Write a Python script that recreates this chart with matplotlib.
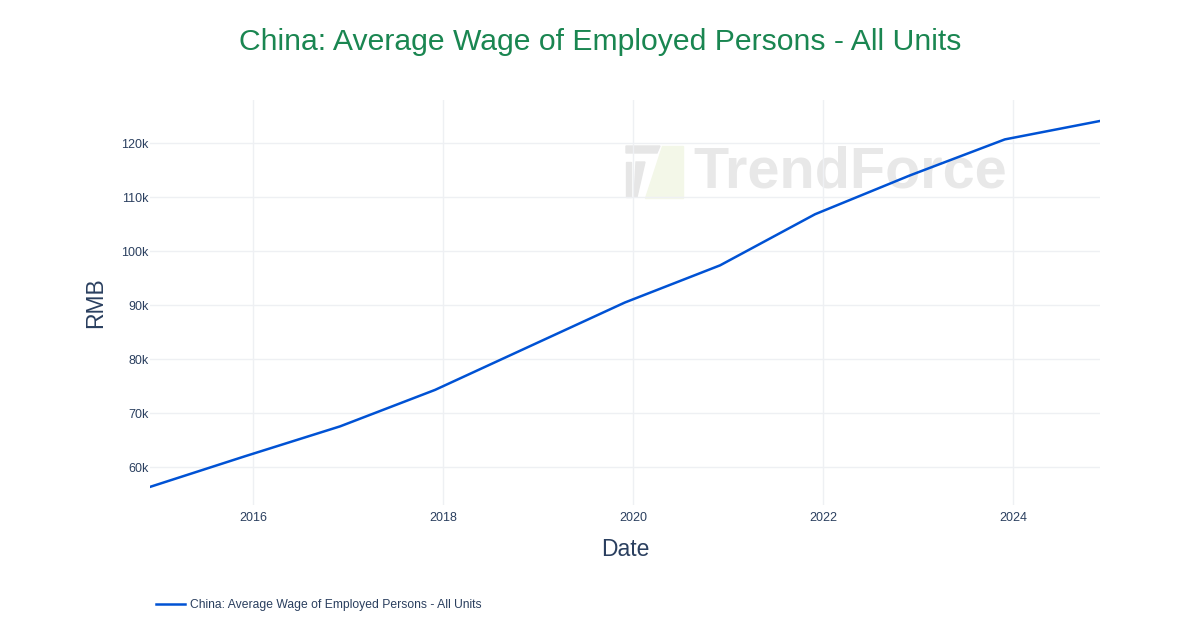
import pandas as pd
import matplotlib.pyplot as plt
import matplotlib.dates as mdates
from matplotlib.patches import Polygon
from matplotlib.ticker import FuncFormatter

plt.rcParams["font.family"] = ["Liberation Sans", "DejaVu Sans"]

# data: yearly average wage (RMB)
years = [2014, 2015, 2016, 2017, 2018, 2019, 2020, 2021, 2022, 2023, 2024]
wages = [56360, 62029, 67569, 74318, 82413, 90501, 97379, 106837, 114029, 120698, 124110]
series_name = "China: Average Wage of Employed Persons - All Units"

dates = pd.to_datetime([f"{y}-12-01" for y in years])

text_col = "#2a3f5f"
grid_col = "#eef0f3"

W, H = 1200, 630
fig = plt.figure(figsize=(12, 6.3), dpi=100)
ax = fig.add_axes([0.125, 0.198, 0.7917, 0.643])
ax.set_zorder(2)
ax.patch.set_alpha(0)

ax.plot(dates, wages, color="#0052d4", linewidth=1.8, label=series_name, zorder=3)

ax.set_xlim(dates[0], dates[-1])
ax.set_ylim(52960, 127960)

ax.xaxis.set_major_locator(mdates.YearLocator(2))
ax.xaxis.set_major_formatter(mdates.DateFormatter("%Y"))
ax.set_yticks([60000, 70000, 80000, 90000, 100000, 110000, 120000])
ax.yaxis.set_major_formatter(FuncFormatter(lambda v, p: f"{int(v/1000)}k"))

ax.grid(True, color=grid_col, linewidth=1)
for s in ax.spines.values():
    s.set_visible(False)
ax.tick_params(axis="y", length=0, labelsize=9, colors=text_col, pad=1)
ax.tick_params(axis="x", length=0, labelsize=9, colors=text_col, pad=5)

ax.set_xlabel("Date", fontsize=16.5, color=text_col, labelpad=10)
ax.set_ylabel("RMB", fontsize=16.5, color=text_col, labelpad=10)

fig.suptitle("China: Average Wage of Employed Persons - All Units",
             fontsize=21.7, color="#1a8651", y=0.955)

# watermark (text + rough logo), behind the plot
def px(pts):
    return [(x / W, 1 - y / H) for x, y in pts]

fig.text(693 / W, 1 - 173 / H, "TrendForce", fontsize=41.5, fontweight="bold",
         color="#e8e8e8", va="center", ha="left", zorder=0)
logo_gray = "#e6e6e6"
logo_green = "#f3f7e8"
fig.patches.append(Polygon(px([(626, 146), (660, 146), (657, 153), (626, 153)]),
                           closed=True, transform=fig.transFigure, color=logo_gray, zorder=0))
fig.patches.append(Polygon(px([(626, 162), (631, 162), (631, 197), (626, 197)]),
                           closed=True, transform=fig.transFigure, color=logo_gray, zorder=0))
fig.patches.append(Polygon(px([(636, 162), (645, 162), (637, 197), (634, 197)]),
                           closed=True, transform=fig.transFigure, color=logo_gray, zorder=0))
fig.patches.append(Polygon(px([(662, 146), (683, 146), (683, 198), (645, 198)]),
                           closed=True, transform=fig.transFigure, color=logo_green, zorder=0))

leg = fig.legend(loc="lower left", bbox_to_anchor=(0.121, 0.013), frameon=False,
                 fontsize=8.75, handlelength=2.35, handletextpad=0.4)
for t in leg.get_texts():
    t.set_color(text_col)

fig.savefig("out.png", dpi=100, facecolor="white")
